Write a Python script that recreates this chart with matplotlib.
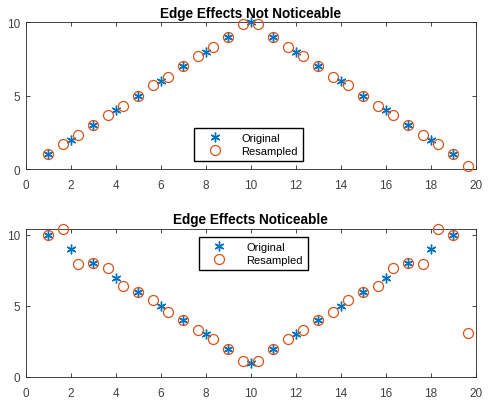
import matplotlib
matplotlib.use('Agg')
import matplotlib.pyplot as plt
from matplotlib import rcParams

rcParams.update({'font.family': 'sans-serif',
                 'font.sans-serif': ['Liberation Sans', 'DejaVu Sans'],
                 'font.size': 8})

###############################################################################
# Data
###############################################################################
x_orig = [1, 2, 3, 4, 5, 6, 7, 8, 9, 10, 11, 12, 13, 14, 15, 16, 17, 18, 19]
y_orig_top = [1, 2, 3, 4, 5, 6, 7, 8, 9, 10, 9, 8, 7, 6, 5, 4, 3, 2, 1]
y_orig_bot = [10, 9, 8, 7, 6, 5, 4, 3, 2, 1, 2, 3, 4, 5, 6, 7, 8, 9, 10]

x_res = [1.0, 1.667, 2.333, 3.0, 3.667, 4.333, 5.0, 5.667, 6.333, 7.0,
         7.667, 8.333, 9.0, 9.667, 10.333, 11.0, 11.667, 12.333, 13.0,
         13.667, 14.333, 15.0, 15.667, 16.333, 17.0, 17.667, 18.333, 19.0,
         19.667]
y_res_top = [1.0, 1.7, 2.3, 3.0, 3.7, 4.3, 5.0, 5.7, 6.3, 7.0,
             7.7, 8.3, 9.0, 9.9, 9.9, 9.0, 8.3, 7.7, 7.0,
             6.3, 5.7, 5.0, 4.3, 3.7, 3.0, 2.3, 1.7, 1.0,
             0.2]
y_res_bot = [10.0, 10.4, 7.95, 8.0, 7.65, 6.4, 6.0, 5.45, 4.55, 4.0,
             3.3, 2.7, 2.0, 1.1, 1.1, 2.0, 2.7, 3.3, 4.0,
             4.55, 5.45, 6.0, 6.4, 7.65, 8.0, 7.95, 10.4, 10.0,
             3.1]

titles = ['Edge Effects Not Noticeable', 'Edge Effects Noticeable']
legend_labels = ['Original', 'Resampled']

BLUE = '#0072BD'
ORANGE = '#D95319'
GREY = '#262626'
LABEL_GREY = '#404040'
STAR = (6, 2, 0)

###############################################################################
# Plot
###############################################################################
fig = plt.figure(figsize=(4.96, 4.06), dpi=100)
ax_top = fig.add_axes([0.0524, 0.581, 0.907, 0.362])
ax_bot = fig.add_axes([0.0524, 0.069, 0.907, 0.3645])

panels = [(ax_top, y_orig_top, y_res_top, (0, 10), 'lower center', (0.495, 0.054)),
          (ax_bot, y_orig_bot, y_res_bot, (0, 10.42), 'upper center', (0.505, 0.946))]

for curr_ax, y_o, y_r, ylim, leg_loc, leg_anchor in panels:
    curr_ax.plot(x_orig, y_o, linestyle='none', marker=STAR, markersize=7,
                 markeredgewidth=1.0, color=BLUE, label=legend_labels[0],
                 clip_on=False, zorder=3)
    curr_ax.plot(x_res, y_r, linestyle='none', marker='o', markersize=7.2,
                 markerfacecolor='none', markeredgewidth=0.9, color=ORANGE,
                 label=legend_labels[1], clip_on=False, zorder=3)
    curr_ax.set_xlim(0, 20)
    curr_ax.set_ylim(*ylim)
    curr_ax.set_xticks(range(0, 21, 2))
    curr_ax.set_yticks([0, 5, 10])
    curr_ax.tick_params(direction='in', length=3, width=0.6, color=GREY,
                        labelcolor=LABEL_GREY, labelsize=8.5, top=True,
                        right=True)
    curr_ax.tick_params(axis='x', pad=7)
    curr_ax.tick_params(axis='y', pad=4)
    for spine in curr_ax.spines.values():
        spine.set_color(GREY)
        spine.set_linewidth(0.6)
    curr_ax.legend(loc=leg_loc, bbox_to_anchor=leg_anchor, fancybox=False,
                   edgecolor='black', framealpha=1, fontsize=8,
                   handletextpad=1.0, borderpad=0.45, labelspacing=0.3,
                   handlelength=2.8, borderaxespad=0)

ax_top.set_title(titles[0], fontsize=9.8, fontweight='bold', pad=4)
ax_bot.set_title(titles[1], fontsize=9.8, fontweight='bold', pad=4)

plt.savefig('out.png', dpi=100)
plt.close()
